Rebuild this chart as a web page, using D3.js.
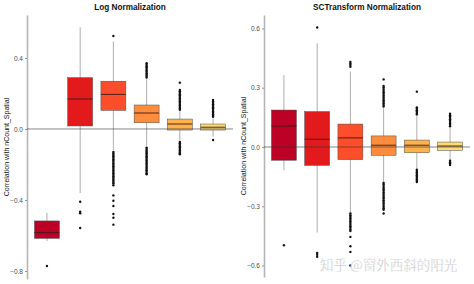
<!DOCTYPE html>
<html>
<head>
<meta charset="utf-8">
<script src="https://cdn.jsdelivr.net/npm/d3@7"></script>
<style>
  body { margin: 0; background: #fff; }
  svg { display: block; font-family: "Liberation Sans", Arial, sans-serif; }
</style>
</head>
<body>
<div id="chart"></div>
<script>
// groups and fill colours (YlOrRd)
const groups = ["1", "2", "3", "4", "5", "6"];
const boxColors = ["#bd0026", "#e31a1c", "#fc4e2a", "#fd8d3c", "#feb24c", "#fed976"];

// Log Normalization
const logTicks = [0.4, 0.0, -0.4, -0.8];
const logWhiskLo = [-0.631, -0.361, -0.118, -0.095, -0.065, -0.043];
const logQ1 = [-0.616, 0.017, 0.105, 0.035, -0.006, -0.006];
const logMedian = [-0.584, 0.169, 0.195, 0.09, 0.028, 0.01];
const logQ3 = [-0.518, 0.289, 0.269, 0.135, 0.056, 0.028];
const logWhiskHi = [-0.473, 0.573, 0.492, 0.28, 0.1, 0.06];
const logOutliers = [
  [-0.772],
  [-0.41, -0.466, -0.475, -0.558],
  [0.524, -0.13, -0.138, -0.146, -0.154, -0.162, -0.17, -0.178, -0.186, -0.194, -0.202, -0.21, -0.218,
   -0.226, -0.234, -0.242, -0.25, -0.258, -0.266, -0.274, -0.282, -0.29, -0.298, -0.306, -0.317,
   -0.374, -0.404, -0.434, -0.479, -0.5, -0.539],
  [0.37, 0.362, 0.354, 0.346, 0.338, 0.33, 0.322, 0.314, 0.306, 0.298, 0.29,
   -0.105, -0.113, -0.121, -0.129, -0.137, -0.145, -0.153, -0.161, -0.169, -0.177, -0.185, -0.193,
   -0.201, -0.209, -0.217, -0.225, -0.233, -0.241, -0.249, -0.255],
  [0.261, 0.22, 0.212, 0.204, 0.196, 0.188, 0.18, 0.172, 0.164, 0.156, 0.148, 0.14, 0.132, 0.124,
   0.116, 0.108, -0.073, -0.081, -0.089, -0.097, -0.105, -0.113, -0.121, -0.129, -0.137, -0.143],
  [0.163, 0.155, 0.147, 0.139, 0.131, 0.123, 0.115, 0.107, 0.099, 0.091, 0.083, 0.075, 0.069, -0.062]
];

// SCTransform Normalization
const sctTicks = [0.6, 0.3, 0.0, -0.3, -0.6];
const sctWhiskLo = [-0.118, -0.433, -0.329, -0.177, -0.11, -0.067];
const sctQ1 = [-0.067, -0.093, -0.064, -0.042, -0.029, -0.017];
const sctMedian = [0.106, 0.039, 0.046, 0.009, 0.009, 0.005];
const sctQ3 = [0.187, 0.179, 0.116, 0.056, 0.035, 0.025];
const sctWhiskHi = [0.364, 0.525, 0.381, 0.196, 0.158, 0.098];
const sctOutliers = [
  [-0.497],
  [0.605, -0.536, -0.546, -0.556],
  [0.431, 0.423, 0.415, 0.406, -0.337, -0.345, -0.353, -0.361, -0.369, -0.377, -0.385, -0.393,
   -0.401, -0.409, -0.417, -0.425, -0.455, -0.502, -0.531, -0.6],
  [0.342, 0.309, 0.301, 0.293, 0.285, 0.277, 0.269, 0.261, 0.253, 0.245, 0.237, 0.229, 0.221, 0.213,
   0.205, -0.182, -0.19, -0.198, -0.206, -0.214, -0.222, -0.23, -0.238, -0.246, -0.254, -0.262,
   -0.27, -0.278, -0.286, -0.294, -0.302, -0.31, -0.318, -0.337],
  [0.28, 0.2, 0.193, 0.186, 0.179, 0.172, 0.165, -0.115, -0.122, -0.129, -0.136, -0.143, -0.15,
   -0.157, -0.164, -0.171, -0.177],
  [0.168, 0.161, 0.154, 0.147, 0.14, 0.133, 0.126, 0.119, 0.112, 0.105, -0.07, -0.077, -0.084, -0.091]
];

const W = 474, H = 284;
const svg = d3.select('#chart').append('svg')
  .attr('width', W)
  .attr('height', H);

svg.append('rect').attr('width', W).attr('height', H).attr('fill', '#fff');

function drawPanel(p) {
  const x = d3.scalePoint().domain(groups).range([p.x0, p.x1]).padding(0.6);
  const y = d3.scaleLinear().domain(p.yDomain).range([p.yBottom, p.yTop]);
  const bw = x.step() * 0.75;
  const g = svg.append('g');

  // titulo
  g.append('text')
    .attr('x', (p.x0 + p.x1) / 2)
    .attr('y', 10)
    .attr('text-anchor', 'middle')
    .attr('font-size', 8.2)
    .attr('font-weight', 'bold')
    .attr('fill', '#111')
    .text(p.title);

  // eje y
  const axis = g.append('g')
    .attr('transform', `translate(${p.x0},0)`)
    .call(d3.axisLeft(y).tickValues(p.ticks).tickSize(2).tickSizeOuter(0).tickPadding(2)
      .tickFormat(d3.format('.1f')));
  axis.select('.domain').attr('stroke', '#b5b5b5').attr('stroke-width', 1.6);
  axis.selectAll('.tick line').attr('stroke', '#555').attr('stroke-width', 0.6);
  axis.selectAll('.tick text').attr('fill', '#4d4d4d').attr('font-size', 6.5)
    .attr('font-family', '"Liberation Sans", Arial, sans-serif');

  g.append('text')
    .attr('transform', `translate(${p.labelX},${(p.yTop + p.yBottom) / 2}) rotate(-90)`)
    .attr('text-anchor', 'middle')
    .attr('font-size', 7)
    .attr('fill', '#111')
    .text('Correlation with nCount_Spatial');

  groups.forEach((k, i) => {
    const cx = x(k);
    // bigotes
    g.append('line')
      .attr('x1', cx).attr('x2', cx)
      .attr('y1', y(p.lo[i])).attr('y2', y(p.hi[i]))
      .attr('stroke', '#8a8a8a').attr('stroke-width', 0.7);
    // caja
    g.append('rect')
      .attr('x', cx - bw / 2)
      .attr('y', y(p.q3[i]))
      .attr('width', bw)
      .attr('height', y(p.q1[i]) - y(p.q3[i]))
      .attr('fill', boxColors[i])
      .attr('stroke', '#4a4a4a')
      .attr('stroke-width', 0.5);
    // mediana
    g.append('line')
      .attr('x1', cx - bw / 2).attr('x2', cx + bw / 2)
      .attr('y1', y(p.med[i])).attr('y2', y(p.med[i]))
      .attr('stroke', '#3a1a1a').attr('stroke-width', 0.9);
    // outliers
    g.selectAll(null)
      .data(p.out[i])
      .enter().append('circle')
      .attr('cx', cx)
      .attr('cy', d => y(d))
      .attr('r', 1.2)
      .attr('fill', '#111');
  });

  // linea en y=0
  g.append('line')
    .attr('x1', p.x0).attr('x2', p.x1)
    .attr('y1', y(0)).attr('y2', y(0))
    .attr('stroke', '#333').attr('stroke-width', 0.6);
}

drawPanel({
  title: 'Log Normalization',
  x0: 27, x1: 233, yTop: 15, yBottom: 279, yDomain: [-0.845, 0.642], labelX: 9,
  ticks: logTicks, lo: logWhiskLo, q1: logQ1, med: logMedian, q3: logQ3, hi: logWhiskHi, out: logOutliers
});

drawPanel({
  title: 'SCTransform Normalization',
  x0: 264, x1: 470, yTop: 15, yBottom: 277, yDomain: [-0.658, 0.668], labelX: 246,
  ticks: sctTicks, lo: sctWhiskLo, q1: sctQ1, med: sctMedian, q3: sctQ3, hi: sctWhiskHi, out: sctOutliers
});

// marca de agua
svg.append('text')
  .attr('x', 320)
  .attr('y', 270)
  .attr('font-size', 13.5)
  .attr('font-family', '"Noto Sans CJK SC", sans-serif')
  .attr('fill', '#c4c4c4')
  .attr('stroke', '#fff')
  .attr('stroke-width', 0.3)
  .text('知乎 @窗外西斜的阳光');
</script>
</body>
</html>
